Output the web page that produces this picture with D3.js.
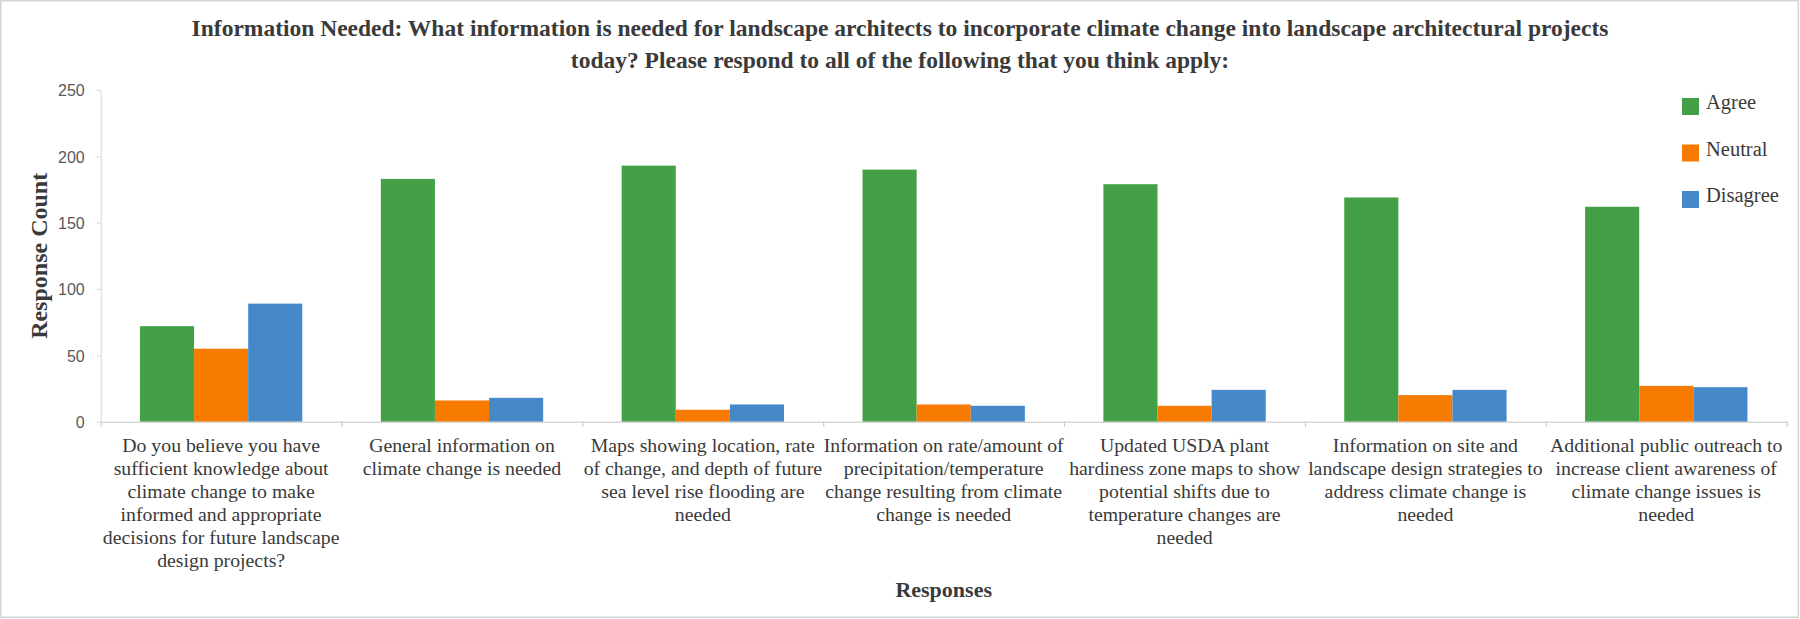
<!DOCTYPE html>
<html>
<head>
<meta charset="utf-8">
<script src="https://cdn.jsdelivr.net/npm/d3@7"></script>
<style>
  body { margin: 0; background: #fff; }
  svg { display: block; }
  text { font-family: 'Liberation Serif', 'Times New Roman', serif; fill: #3a3a3a; }
  .yaxis text { font-family: 'Liberation Sans', Arial, sans-serif; font-size: 16px; fill: #595959; }
</style>
</head>
<body>
<svg id="chart"></svg>
<script>
// chart data
const categories = [
  'Do you believe you have\nsufficient knowledge about\nclimate change to make\ninformed and appropriate\ndecisions for future landscape\ndesign projects?',
  'General information on\nclimate change is needed',
  'Maps showing location, rate\nof change, and depth of future\nsea level rise flooding are\nneeded',
  'Information on rate/amount of\nprecipitation/temperature\nchange resulting from climate\nchange is needed',
  'Updated USDA plant\nhardiness zone maps to show\npotential shifts due to\ntemperature changes are\nneeded',
  'Information on site and\nlandscape design strategies to\naddress climate change is\nneeded',
  'Additional public outreach to\nincrease client awareness of\nclimate change issues is\nneeded'
]
const seriesNames = ['Agree', 'Neutral', 'Disagree']
const agree = [72, 183, 193, 190, 179, 169, 162]
const neutral = [55, 16, 9, 13, 12, 20, 27]
const disagree = [89, 18, 13, 12, 24, 24, 26]
const yTicks = [0, 50, 100, 150, 200, 250]
const titleLines = [
  'Information Needed: What information is needed for landscape architects to incorporate climate change into landscape architectural projects',
  'today? Please respond to all of the following that you think apply:'
]

const W = 1800
const H = 619
const plot = { left: 100.7, right: 1786.7, top: 90, bottom: 421.7 }

function colourForSeries (name) {
  const colours = new Map()
  colours.set('Agree', '#43a047')
  colours.set('Neutral', '#f77b00')
  colours.set('Disagree', '#4589c9')
  return colours.has(name) ? colours.get(name) : 'gray'
}

function draw () {
  const values = [agree, neutral, disagree]
  const rows = categories.map((c, i) => ({
    cat: c,
    vals: seriesNames.map((s, j) => ({ series: s, value: values[j][i] }))
  }))

  const svg = d3.select('svg#chart')
    .attr('width', W)
    .attr('height', H)

  // outer chart border
  svg.append('rect')
    .attr('x', 0.75)
    .attr('y', 0.75)
    .attr('width', W - 2.5)
    .attr('height', H - 2.5)
    .attr('fill', '#fff')
    .attr('stroke', '#d4d4d4')
    .attr('stroke-width', 1.5)

  const x0 = d3.scaleBand()
    .domain(categories)
    .range([plot.left, plot.right])
    .paddingInner(0.326)
    .paddingOuter(0.163)

  const x1 = d3.scaleBand()
    .domain(seriesNames)
    .range([0, x0.bandwidth()])

  const y = d3.scaleLinear()
    .domain([0, 250])
    .range([plot.bottom, plot.top])

  // y axis
  const yAxis = svg.append('g')
    .classed('yaxis', true)
    .attr('transform', `translate(${plot.left},0)`)
    .call(d3.axisLeft(y).tickValues(yTicks).tickSize(4).tickSizeOuter(0).tickPadding(12))
  yAxis.select('.domain').attr('stroke', '#d9d9d9')
  yAxis.selectAll('.tick line').attr('stroke', '#d9d9d9')
  yAxis.selectAll('.tick text').attr('dy', '0.36em')

  // bars
  const groups = svg.append('g').selectAll('g.cat')
    .data(rows)
    .join('g')
    .classed('cat', true)
    .attr('transform', d => `translate(${x0(d.cat)},0)`)

  groups.selectAll('rect')
    .data(d => d.vals)
    .join('rect')
    .attr('x', d => x1(d.series))
    .attr('y', d => y(d.value))
    .attr('width', x1.bandwidth())
    .attr('height', d => y(0) - y(d.value))
    .attr('fill', d => colourForSeries(d.series))

  // x axis with ticks between categories
  const xb = d3.scaleLinear()
    .domain([0, categories.length])
    .range([plot.left, plot.right])
  const xAxis = svg.append('g')
    .attr('transform', `translate(0,${plot.bottom})`)
    .call(d3.axisBottom(xb).ticks(categories.length).tickSize(5).tickSizeOuter(0).tickFormat(''))
  xAxis.select('.domain').attr('stroke', '#c4c4c4')
  xAxis.selectAll('.tick line').attr('stroke', '#c4c4c4')

  // category labels
  const LINEH = 23
  svg.append('g').selectAll('text.cat')
    .data(categories)
    .join('text')
    .classed('cat', true)
    .attr('text-anchor', 'middle')
    .attr('font-size', '19.8px')
    .attr('y', 452)
    .each(function (d) {
      const t = d3.select(this)
      d.split('\n').forEach((line, i) => {
        t.append('tspan')
          .attr('x', x0(d) + x0.bandwidth() / 2)
          .attr('dy', i === 0 ? 0 : LINEH)
          .text(line)
      })
    })

  // title
  svg.append('text')
    .attr('text-anchor', 'middle')
    .attr('font-size', '23.5px')
    .attr('font-weight', 'bold')
    .selectAll('tspan')
    .data(titleLines)
    .join('tspan')
    .attr('x', W / 2)
    .attr('y', (d, i) => 36 + i * 32)
    .text(d => d)

  // axis titles
  svg.append('text')
    .attr('text-anchor', 'middle')
    .attr('font-size', '24px')
    .attr('font-weight', 'bold')
    .attr('transform', `translate(47,${(plot.top + plot.bottom) / 2}) rotate(-90)`)
    .text('Response Count')

  svg.append('text')
    .attr('text-anchor', 'middle')
    .attr('font-size', '22px')
    .attr('font-weight', 'bold')
    .attr('x', (plot.left + plot.right) / 2)
    .attr('y', 596.7)
    .text('Responses')

  // legend
  const legend = svg.append('g').selectAll('g.legend')
    .data(seriesNames)
    .join('g')
    .classed('legend', true)
    .attr('transform', (d, i) => `translate(1682,${98 + i * 46.5})`)

  legend.append('rect')
    .attr('width', 17)
    .attr('height', 17)
    .attr('fill', d => colourForSeries(d))

  legend.append('text')
    .attr('x', 24)
    .attr('y', 11)
    .attr('font-size', '20.5px')
    .text(d => d)
}

draw()
</script>
</body>
</html>
